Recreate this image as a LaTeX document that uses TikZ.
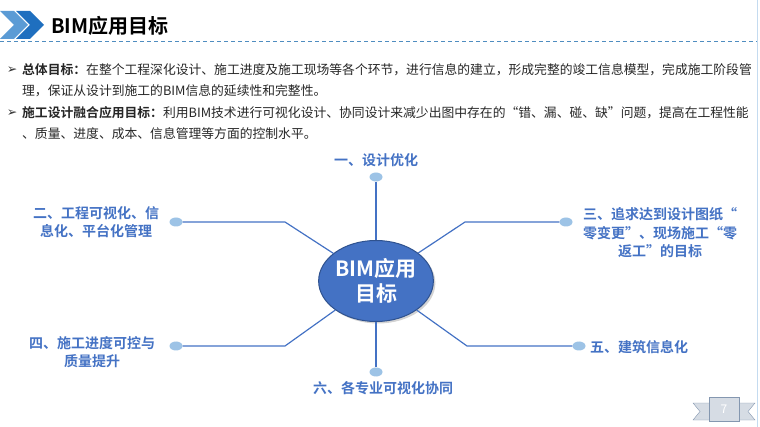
\documentclass[tikz,border=0pt]{standalone}
\usepackage{fontspec}
\setmainfont{Noto Sans CJK SC}[BoldFont={Noto Sans CJK SC Bold}]
\newfontfamily\symfont{DejaVu Sans}
\usetikzlibrary{shapes.geometric,shadows}
\definecolor{hub}{HTML}{4472C4}
\definecolor{hubline}{HTML}{2F528F}
\definecolor{pinc}{HTML}{9DC3E6}
\definecolor{dashc}{HTML}{4F8DC0}
\definecolor{chevl}{HTML}{5B9BD5}
\definecolor{chevd}{HTML}{1F6FBF}
\definecolor{badge}{HTML}{D6DCE4}
\definecolor{badgeline}{HTML}{8497B0}
\begin{document}
\begin{tikzpicture}[x=1pt,y=-1pt,
        hubnode/.style={ellipse, fill=hub, draw=hubline, line width=1pt, minimum width=108pt, minimum height=81pt,
            inner sep=0pt, text=white, align=center, font=\bfseries\fontsize{21}{25}\selectfont,
            drop shadow={opacity=0.35, shadow xshift=2pt, shadow yshift=-2pt}},
        pin/.style ={ellipse, fill=pinc, minimum width=13pt, minimum height=9pt, inner sep=0pt},
        lbl/.style ={text=hub, align=center, inner sep=0pt, font=\bfseries\fontsize{14}{18.5}\selectfont},
        conn/.style={draw=hub, line width=1.2pt},
        body/.style={anchor=west, inner sep=0pt, text=black!85, font=\fontsize{12.8}{16}\selectfont}]
        \useasboundingbox (0,0) rectangle (760,427);
% Kopfzeile
        \fill[chevl] (0,11) -- (14,11) -- (28,25) -- (14,39) -- (0,39) -- (14,25) -- cycle;
        \fill[chevd] (16,11) -- (30,11) -- (44,25) -- (30,39) -- (16,39) -- (30,25) -- cycle;
        \node[anchor=west, inner sep=0pt, text=black, font=\bfseries\fontsize{20}{22}\selectfont] (title) at (51,26) {BIM应用目标};
        \draw[dashc, line width=1pt, dash pattern=on 4pt off 3pt] (0,42) -- (757,42);
        \draw[pinc!60, line width=1pt] (757,0) -- (757,427);
% Text
        \foreach \y in {70,113} {\node[inner sep=0pt, text=black!80, font=\symfont\fontsize{12.5}{14}\selectfont] at (12,\y) {➢};}
        \node[body] (t1) at (22,70)  {\textbf{总体目标：}在整个工程深化设计、施工进度及施工现场等各个环节，进行信息的建立，形成完整的竣工信息模型，完成施工阶段管};
        \node[body] (t2) at (22,91)  {理，保证从设计到施工的BIM信息的延续性和完整性。};
        \node[body] (t3) at (22,113) {\textbf{施工设计融合应用目标：}利用BIM技术进行可视化设计、协同设计来减少出图中存在的“错、漏、碰、缺”问题，提高在工程性能};
        \node[body] (t4) at (22,134) {、质量、进度、成本、信息管理等方面的控制水平。};
% Mitte und Arme
        \node[hubnode] (hub) at (376,281) {BIM应用\\目标};
        \node[pin] (p1) at (376,177) {};
        \node[pin] (p2) at (176,222) {};
        \node[pin] (p3) at (566,222) {};
        \node[pin] (p4) at (176,346) {};
        \node[pin] (p5) at (579,346) {};
        \node[pin] (p6) at (376,372) {};
        \coordinate (k2) at (285,222);
        \coordinate (k3) at (465,222);
        \coordinate (k4) at (285,346);
        \coordinate (k5) at (467,346);
        \draw[conn] (p1) -- (hub);
        \draw[conn] (p2) -- (k2) -- (hub);
        \draw[conn] (p3) -- (k3) -- (hub);
        \draw[conn] (p4) -- (k4) -- (hub);
        \draw[conn] (p5) -- (k5) -- (hub);
        \draw[conn] (p6) -- (hub);
        \node[lbl] (l1) at (376,160) {一、设计优化};
        \node[lbl] (l2) at (96,222)  {二、工程可视化、信\\息化、平台化管理};
        \node[lbl] (l3) at (660,233) {三、追求达到设计图纸“\\零变更”、现场施工“零\\返工”的目标};
        \node[lbl] (l4) at (92,352)  {四、施工进度可控与\\质量提升};
        \node[lbl, anchor=west] (l5) at (590,347) {五、建筑信息化};
        \node[lbl] (l6) at (383,388) {六、各专业可视化协同};
% Seitenzahl
        \draw[fill=badge, draw=badgeline] (693,403) -- (711,403) -- (711,420) -- (693,420) -- (700,411.5) -- cycle;
        \draw[fill=badge, draw=badgeline] (755,403) -- (737,403) -- (737,420) -- (755,420) -- (748,411.5) -- cycle;
        \node[fill=badge, draw=badgeline, minimum width=30pt, minimum height=24pt, text=white,
            font=\fontsize{12}{14}\selectfont] (pg) at (724,409) {7};
    \end{tikzpicture}
\end{document}
